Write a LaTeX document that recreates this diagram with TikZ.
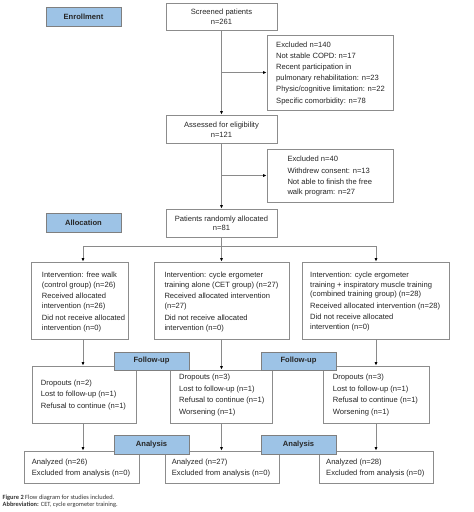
\documentclass[tikz,border=0pt]{standalone}
\usepackage{fontspec}
\setmainfont{Liberation Sans}
\newfontfamily\capfont{Carlito}
\usetikzlibrary{arrows.meta}
\definecolor{boxgray}{HTML}{8C8C8C}
\definecolor{linegray}{HTML}{8A8A8A}
\definecolor{labblue}{HTML}{9DC3E6}
\definecolor{labedge}{HTML}{7F7F7F}
\tikzset{
  box/.style={draw=boxgray, line width=0.8pt, fill=white, inner sep=0pt},
  lab/.style={draw=labedge, line width=0.8pt, fill=labblue, inner sep=0pt,
    minimum width=75pt, font=\fontsize{7.6}{9}\selectfont\bfseries, text=black!85},
  txt/.style={inner sep=0pt, align=left, anchor=west, font=\fontsize{7.6}{10}\selectfont, text=black!85},
  ctxt/.style={inner sep=0pt, align=center, font=\fontsize{7.6}{9.3}\selectfont, text=black!85},
  arr/.style={draw=linegray, line width=0.8pt, -{Latex[length=3.6pt,width=3.2pt,black]}},
  ln/.style={draw=linegray, line width=0.8pt}
}
\begin{document}
\begin{tikzpicture}[x=1pt,y=-1pt]
\useasboundingbox (0,0) rectangle (474,512);
% main column boxes
\node[box, minimum width=111pt, minimum height=27pt] (scr) at (221.5,16.5) {};
\node[ctxt] (scrT) at (221.5,16.8) {Screened patients\\n=261};
\node[box, minimum width=126pt, minimum height=75pt] (ex1) at (330,72.5) {};
\node[txt] (ex1T) at (276,73.2) {Excluded n=140\\[1.2pt]Not stable COPD: n=17\\[1.2pt]Recent participation in\\[1.2pt]pulmonary rehabilitation: n=23\\[1.2pt]Physic/cognitive limitation: n=22\\[1.2pt]Specific comorbidity: n=78};
\node[box, minimum width=111pt, minimum height=28pt] (ass) at (221.5,129) {};
\node[ctxt] (assT) at (221.5,129.8) {Assessed for eligibility\\n=121};
\node[box, minimum width=126pt, minimum height=53pt] (ex2) at (330,175.5) {};
\node[txt] (ex2T) at (287.3,176.3) {Excluded n=40\\[1.5pt]Withdrew consent: n=13\\[1.2pt]Not able to finish the free\\walk program: n=27};
\node[box, minimum width=111pt, minimum height=28pt] (pat) at (221.5,223) {};
\node[ctxt] (patT) at (221.5,223.3) {Patients randomly allocated\\n=81};
% intervention boxes
\node[box, minimum width=97pt, minimum height=77pt] (ia) at (79.5,300.5) {};
\node[txt] (iaT) at (41.7,301.8) {Intervention: free walk\\(control group) (n=26)\\[1.7pt]Received allocated\\intervention (n=26)\\[1.7pt]Did not receive allocated\\intervention (n=0)};
\node[box, minimum width=135pt, minimum height=77pt] (ib) at (221.5,300.5) {};
\node[txt] (ibT) at (164.3,301.8) {Intervention: cycle ergometer\\training alone (CET group) (n=27)\\[1.7pt]Received allocated intervention\\(n=27)\\[1.7pt]Did not receive allocated\\intervention (n=0)};
\node[box, minimum width=147pt, minimum height=77pt] (ic) at (375.5,300.5) {};
\node[txt] (icT) at (310,301.8) {Intervention: cycle ergometer\\[-0.7pt]training + inspiratory muscle training\\[-0.7pt](combined training group) (n=28)\\[1.7pt]Received allocated intervention (n=28)\\[1.7pt]Did not receive allocated\\intervention (n=0)};
% follow-up boxes
\node[box, minimum width=104pt, minimum height=57pt] (da) at (84,394.5) {};
\node[txt] (daT) at (40.7,395) {Dropouts (n=2)\\[1.5pt]Lost to follow-up (n=1)\\[1.5pt]Refusal to continue (n=1)};
\node[box, minimum width=102pt, minimum height=53pt] (db) at (221,396.5) {};
\node[txt] (dbT) at (179,395) {Dropouts (n=3)\\[1.5pt]Lost to follow-up (n=1)\\[1.5pt]Refusal to continue (n=1)\\[1.5pt]Worsening (n=1)};
\node[box, minimum width=106pt, minimum height=57pt] (dc) at (376,394.5) {};
\node[txt] (dcT) at (332.7,395) {Dropouts (n=3)\\[1.5pt]Lost to follow-up (n=1)\\[1.5pt]Refusal to continue (n=1)\\[1.5pt]Worsening (n=1)};
% analysis boxes
\node[box, minimum width=115pt, minimum height=32pt] (aa) at (81.5,467) {};
\node[txt] (aaT) at (31.7,468) {Analyzed (n=26)\\[1.6pt]Excluded from analysis (n=0)};
\node[box, minimum width=114pt, minimum height=32pt] (ab) at (222,467) {};
\node[txt] (abT) at (171.7,468) {Analyzed (n=27)\\[1.6pt]Excluded from analysis (n=0)};
\node[box, minimum width=114pt, minimum height=32pt] (ac) at (376,467) {};
\node[txt] (acT) at (326,468) {Analyzed (n=28)\\[1.6pt]Excluded from analysis (n=0)};
% stage labels
\node[lab, minimum height=19pt] (enr) at (83.5,16.5) {Enrollment};
\node[lab, minimum height=19pt] (all) at (83.5,222.5) {Allocation};
\node[lab, minimum height=18pt] (fu1) at (151.5,361) {Follow-up};
\node[lab, minimum height=18pt] (fu2) at (298.5,361) {Follow-up};
\node[lab, minimum height=19pt] (an1) at (151.5,444.5) {Analysis};
\node[lab, minimum height=19pt] (an2) at (298.5,444.5) {Analysis};
% connectors
\draw[arr] (scr) -- (ass);
\draw[arr] (scr.south |- ex1.west) -- (ex1.west);
\draw[arr] (ass) -- (pat);
\draw[arr] (ass.south |- ex2.west) -- (ex2.west);
\coordinate (sA) at (83,246);
\coordinate (sB) at (221.5,246);
\coordinate (sC) at (376,246);
\draw[ln] (pat.south) -- (sB);
\draw[ln] (sA) -- (sC);
\draw[arr] (sA) -- (sA |- ia.north);
\draw[arr] (sB) -- (sB |- ib.north);
\draw[arr] (sC) -- (sC |- ic.north);
\draw[arr] (sA |- ia.south) -- (sA |- da.north);
\draw[arr] (sB |- ib.south) -- (sB |- db.north);
\draw[arr] (sC |- ic.south) -- (sC |- dc.north);
\draw[arr] (sA |- da.south) -- (sA |- aa.north);
\draw[arr] (sB |- db.south) -- (sB |- ab.north);
\draw[arr] (sC |- dc.south) -- (sC |- ac.north);
% caption
\node[inner sep=0pt, anchor=west, align=left, font=\capfont\fontsize{6.4}{7}\selectfont, text=black!80] (cap) at (2.5,501.3)
  {\textbf{Figure 2} Flow diagram for studies included.\\\textbf{Abbreviation:} CET, cycle ergometer training.};
\end{tikzpicture}
\end{document}
